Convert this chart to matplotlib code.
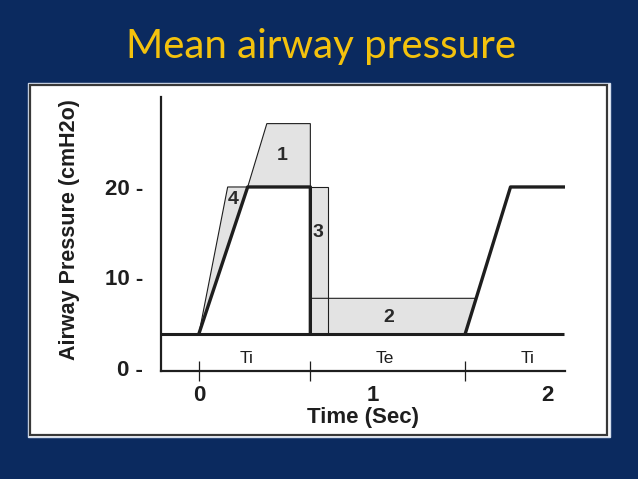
import matplotlib
matplotlib.use("Agg")
import matplotlib.pyplot as plt
from matplotlib.patches import Rectangle, Polygon

# waveform (pressure in cmH2O vs time in sec)
peep = 3.8
baseline_t = [-0.22, 2.10]
wave1_t = [0.0, 0.28, 0.64, 0.64]
wave1_p = [peep, 20, 20, peep]
wave2_t = [1.53, 1.79, 2.10]
wave2_p = [peep, 20, 20]

# shaded areas contributing to mean airway pressure
area1_t = [0.28, 0.39, 0.64, 0.64]
area1_p = [20, 27, 27, 20]
area2_t = [0.64, 0.64, 1.59, 1.53]
area2_p = [peep, 7.7, 7.7, peep]
area3_t = [0.64, 0.74, 0.74, 0.64]
area3_p = [peep, peep, 20, 20]
area4_t = [0.0, 0.165, 0.28]
area4_p = [peep, 20, 20]

area_labels = ["1", "2", "3", "4"]
area_label_t = [0.48, 1.09, 0.685, 0.195]
area_label_p = [23.5, 5.6, 15.0, 18.6]

phase_labels = ["Ti", "Te", "Ti"]
phase_label_t = [0.275, 1.07, 1.89]
phase_label_p = 1.1
phase_bounds = [0.0, 0.64, 1.53]

yticks = [0, 10, 20]
ytick_labels = ["0 -", "10 -", "20 -"]
xticks = [0, 1, 2]
xtick_labels = ["0", "1", "2"]

navy = "#0b2a5f"
gold = "#f4c20d"
ink = "#1e1e1e"
fill = "#e3e3e3"

W, H = 638, 479
fig = plt.figure(figsize=(W / 100, H / 100), dpi=100)
fig.patch.set_facecolor(navy)

# white panel with double border, kept behind the axes
fig.add_artist(Rectangle((28 / W, 1 - 437 / H), 582 / W, 354 / H, transform=fig.transFigure,
                         facecolor="white", edgecolor="#d4deee", lw=1.0, zorder=-2))
fig.add_artist(Rectangle((30 / W, 1 - 435 / H), 577 / W, 350 / H, transform=fig.transFigure,
                         facecolor="white", edgecolor="#383838", lw=1.6, zorder=-1))

fig.text(321 / W, 1 - 58 / H, "Mean airway pressure", color=gold, fontsize=29,
         family="Lato", ha="center", va="baseline")

ax = fig.add_axes([161 / W, 1 - 371 / H, 404 / W, 274 / H])
ax.set_facecolor("none")
ax.set_xlim(-0.218, 2.103)
ax.set_ylim(-0.33, 29.94)

# fills first, outlines on top so overlapping edges stay visible
areas = [(area2_t, area2_p), (area3_t, area3_p), (area1_t, area1_p), (area4_t, area4_p)]
for ts, ps in areas:
    ax.add_patch(Polygon(list(zip(ts, ps)), closed=True, facecolor=fill,
                         edgecolor="none", zorder=2))
for ts, ps in areas:
    ax.add_patch(Polygon(list(zip(ts, ps)), closed=True, facecolor="none",
                         edgecolor=ink, lw=0.8, zorder=2.5))

ax.plot(baseline_t, [peep, peep], color=ink, lw=2.2, zorder=3, solid_capstyle="butt")
ax.plot(wave1_t, wave1_p, color=ink, lw=2.4, zorder=4)
ax.plot(wave2_t, wave2_p, color=ink, lw=2.4, zorder=4)

for lab, t, p in zip(area_labels, area_label_t, area_label_p):
    ax.text(t, p, lab, ha="center", va="center", fontsize=14, fontweight="bold",
            family="Liberation Sans", color="#2a2a2a", zorder=5)
for lab, t in zip(phase_labels, phase_label_t):
    ax.text(t, phase_label_p, lab, ha="center", va="center", fontsize=12.5,
            family="Liberation Sans", color=ink, zorder=5)

for side in ["top", "right"]:
    ax.spines[side].set_visible(False)
for side in ["left", "bottom"]:
    ax.spines[side].set_linewidth(1.6)
    ax.spines[side].set_color(ink)

ax.set_yticks(yticks)
ax.set_yticklabels(ytick_labels, fontsize=16, fontweight="bold", family="Liberation Sans", color=ink)
ax.tick_params(axis="y", length=0, pad=13)

# phase boundaries as ticks crossing the axis, time labels without ticks
ax.xaxis.remove_overlapping_locs = False
ax.set_xticks(phase_bounds)
ax.set_xticklabels([])
ax.tick_params(axis="x", which="major", direction="inout", length=14, width=0.9, color=ink)
ax.set_xticks(xticks, minor=True)
ax.set_xticklabels(xtick_labels, minor=True, fontsize=16, fontweight="bold",
                   family="Liberation Sans", color=ink)
ax.tick_params(axis="x", which="minor", length=0, pad=10)

ax.set_xlabel("Time (Sec)", fontsize=16, fontweight="bold", family="Liberation Sans",
              color=ink, labelpad=1)
fig.text(70 / W, 1 - 230 / H, "Airway Pressure (cmH2o)", rotation=90, fontsize=15.5,
         fontweight="bold", family="Liberation Sans", color=ink, ha="center", va="center")

fig.savefig("out.png", dpi=100, facecolor=navy)
